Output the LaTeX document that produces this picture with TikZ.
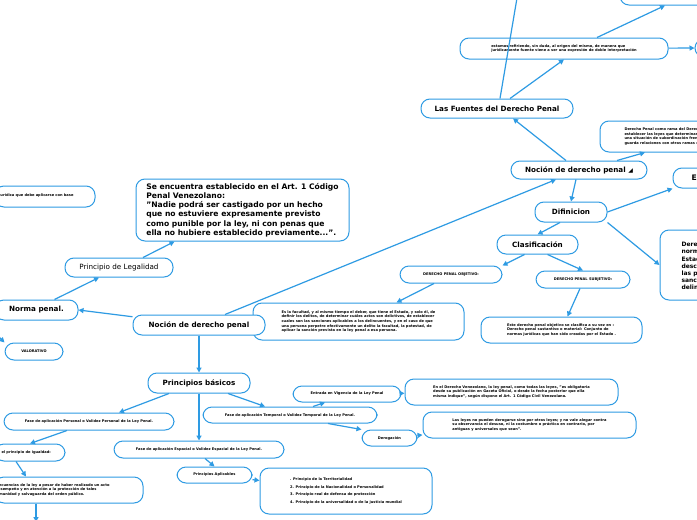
\documentclass[tikz,border=0pt]{standalone}
\usepackage{fontspec}
\setmainfont{DejaVu Sans}
\usetikzlibrary{arrows.meta}
\definecolor{mblue}{HTML}{2E9BE3}
\tikzset{
 box/.style={draw=mblue,line width=1pt,rounded corners=9pt,fill=white,inner sep=0pt},
 con/.style={draw=mblue,line width=1.2pt,-{Triangle[length=5pt,width=5pt]}},
 plain/.style={draw=mblue,line width=1.2pt},
 tiny/.style={font=\fontsize{3.6}{4.6}\selectfont\bfseries,align=left},
 mid/.style={font=\fontsize{7.2}{9}\selectfont\bfseries},
 big/.style={font=\fontsize{7.6}{9.2}\selectfont\bfseries}
}
\newcommand{\bx}[6]{\node[box,minimum width=#3pt,minimum height=#4pt,#5] (#1) at (#2) {#6};}
\begin{document}
\begin{tikzpicture}[x=1pt,y=-1pt]
\useasboundingbox (0,0) rectangle (697,520);
\clip (0,0) rectangle (697,520);
\fill[white] (0,0) rectangle (697,520);
% nodes
\bx{topr}{665,-5}{90}{20}{}{}
\bx{circ}{705,48}{20}{18}{}{}
\bx{est}{564,48.5}{208}{21}{tiny}{estamos refiriendo, sin duda, al origen del mismo, de manera que\\jurídicamente fuente viene a ser una expresión de doble interpretación}
\bx{fue}{497,108.5}{152}{19}{mid}{Las Fuentes del Derecho Penal}
\bx{rama}{660,136.5}{120}{31}{}{}
\node[tiny,anchor=west] (ramat) at (621,136.5) {Derecho Penal como rama del Derecho Público tiene por objeto\\establecer las leyes que determinan los delitos y las penas en\\una situación de subordinación frente al Estado y el cual\\guarda relaciones con otras ramas del Derecho};
\bx{nocr}{579,170}{136}{18}{mid}{Noción de derecho penal {\fontsize{6}{6}\selectfont ◢}}
\bx{el}{700,178}{54}{20}{}{}
\node[big,anchor=west] (elt) at (688,178) {Elementos};
\bx{dif}{571,212}{72}{20}{mid}{Difinicion}
\bx{cla}{537.5,244.5}{81}{19}{mid}{Clasificación}
\bx{dbig}{720,265}{120}{70}{}{}
\node[anchor=west,align=left,font=\fontsize{6}{7.2}\selectfont\bfseries] (dbigt) at (678,266) {Derecho Penal es el conjunto de\\normas jurídicas dictadas por el\\Estado que se encargan de\\describir los delitos y\\las penas y demás\\sanciones aplicables al\\delincuente};
\bx{obj}{451,274.5}{102}{17}{tiny}{DERECHO PENAL OBJETIVO:}
\bx{sub}{583,279.5}{94}{17}{tiny}{DERECHO PENAL SUBJETIVO:}
\bx{fac}{358.5,321.5}{211}{37}{tiny}{Es la facultad, y al mismo tiempo el deber, que tiene el Estado, y solo él, de\\definir los delitos, de determinar cuáles actos son delictivos, de establecer\\cuales son las sanciones aplicables a los delincuentes, y en el caso de que\\una persona perpetre efectivamente un delito la facultad, la potestad, de\\aplicar la sanción prevista en la ley penal a esa persona.}
\bx{este}{561.5,330}{161}{26}{tiny}{Este derecho penal objetivo se clasifica a su vez en :\\Derecho penal sustantivo o material: Conjunto de\\normas jurídicas que han sido creadas por el Estado .}
\bx{nocl}{199,325}{132}{20}{mid}{Noción de derecho penal}
\bx{norma}{36.5,310}{83}{20}{mid}{Norma penal.}
\bx{val}{34,351.5}{58}{17}{tiny}{VALORATIVO}
\bx{ley}{45,196.5}{100}{21}{}{}
\node[tiny,anchor=east] (leyt) at (77,195) {la norma jurídica que debe aplicarse con base};
\bx{leg}{119,267.5}{108}{19}{font=\fontsize{7.2}{9}\selectfont}{Principio de Legalidad}
\bx{se}{242.5,210}{213}{62}{big,align=left}{Se encuentra establecido en el Art. 1 Código\\Penal Venezolano:\\"Nadie podrá ser castigado por un hecho\\que no estuviere expresamente previsto\\como punible por la ley, ni con penas que\\ella no hubiere establecido previamente...".}
\bx{pb}{199,383}{102}{20}{mid}{Principios básicos}
\bx{per}{89,421.5}{170}{17}{tiny}{Fase de aplicación Personal o Validez Personal de la Ley Penal.}
\bx{esp}{199,449.5}{170}{17}{tiny}{Fase de aplicación Espacial o Validez Espacial de la Ley Penal.}
\bx{tem}{290,415}{174}{16}{tiny}{Fase de aplicación Temporal o Validez Temporal de la Ley Penal.}
\bx{ent}{347,394}{108}{16}{tiny}{Entrada en Vigencia de la Ley Penal}
\bx{ven}{511.5,392}{213}{26}{tiny}{En el Derecho Venezolano, la ley penal, como todas las leyes, "es obligatoria\\desde su publicación en Gaceta Oficial, o desde la fecha posterior que ella\\misma indique", según dispone el Art. 1 Código Civil Venezolano.}
\bx{der}{389.5,438}{55}{16}{tiny}{Derogación}
\bx{lns}{529.5,425}{213}{26}{tiny}{Las leyes no pueden derogarse sino por otras leyes; y no vale alegar contra\\su observancia el desuso, ni la costumbre o práctica en contrario, por\\antiguas y universales que sean".}
\bx{igu}{30,452.5}{70}{17}{}{}
\node[tiny,anchor=west] (igut) at (-2,452.5) {el principio de igualdad:};
\bx{exc}{69,490}{148}{26}{}{}
\node[tiny,anchor=east] (exct) at (113,490) {Quedan exceptuados de las consecuencias de la ley a pesar de haber realizado un acto\\punible, en razón de su propio desempeño y en atención a la protección de tales\\funciones, por el interés de la comunidad y salvaguarda del orden público.};
\bx{apl}{214.5,475}{75}{16}{tiny}{Principios Aplicables}
\bx{lst}{346,491}{172}{46}{tiny,font=\fontsize{3.6}{7.6}\selectfont\bfseries}{. Principio de la Territorialidad\\2. Principio de la Nacionalidad o Personalidad\\3. Principio real de defensa de protección\\4. Principio de la universalidad o de la justicia mundial}
\coordinate (offtop) at (517,-2);
\coordinate (offl1) at (-2,294);
\coordinate (offl2) at (-2,327);
\coordinate (offl3) at (-2,336);
\coordinate (offb) at (36,522);
% connectors
\draw[plain] (fue.north) ++(3,0) -- (offtop);
\draw[con] (fue.north) ++(13,0) -- (est.south);
\draw[con] (est.north) ++(33,0) -- (topr.south);
\draw[con] (est) -- (circ);
\draw[con] (nocr.north) ++(-13,0) -- ([xshift=16pt]fue.south);
\draw[con] (nocr.north) ++(38,0) -- ([xshift=-15pt]rama.south);
\draw[con] (nocr.south) ++(-3,0) -- (dif.north);
\draw[con] (dif.east) -- (el.south west);
\draw[con] (dif.south east) -- (dbig.west);
\draw[con] (dif.south) ++(-11,0) -- (cla.north);
\draw[con] (cla.south) ++(-13,0) -- (obj.north east);
\draw[con] (cla.south) ++(10,0) -- (sub.north);
\draw[con] (obj.south) ++(-17,0) -- ([xshift=38pt]fac.north);
\draw[con] (sub.south) ++(-3,0) -- ([xshift=6pt]este.north);
\draw[con] (nocl.north) ++(26,0) -- ([xshift=-23pt]nocr.south);
\draw[con] (nocl) -- (norma.east);
\draw[con] (norma.north) ++(18,0) -- ([xshift=-20pt]leg.south);
\draw[con] (leg.north) ++(24,0) -- ([xshift=-68pt]se.south);
\draw[plain] (offl1) -- (norma.north west);
\draw[plain] (offl2) -- (norma.south west);
\draw[con] (offl3) -- (val.north west);
\draw[con] (nocl) -- (pb);
\draw[con] (pb.south) ++(-30,0) -- ([xshift=30pt]per.north);
\draw[con] (pb.south) -- (esp.north);
\draw[con] (pb.south) ++(29,0) -- ([xshift=-25pt]tem.north);
\draw[con] (tem.north) ++(23,0) -- ([xshift=-22pt]ent.south);
\draw[con] (tem.south) ++(38,0) -- (der.north west);
\draw[con] (ent) -- (ven);
\draw[con] (der) -- (lns);
\draw[con] (per.south) ++(-22,0) -- (igu.north);
\draw[con] (igu.south) ++(-14,0) -- ([xshift=-43pt]exc.north);
\draw[con] (exc.south) ++(-33,0) -- (offb);
\draw[con] (esp.south) ++(6,0) -- (apl.north);
\draw[con] (apl) -- (lst);
\end{tikzpicture}
\end{document}
